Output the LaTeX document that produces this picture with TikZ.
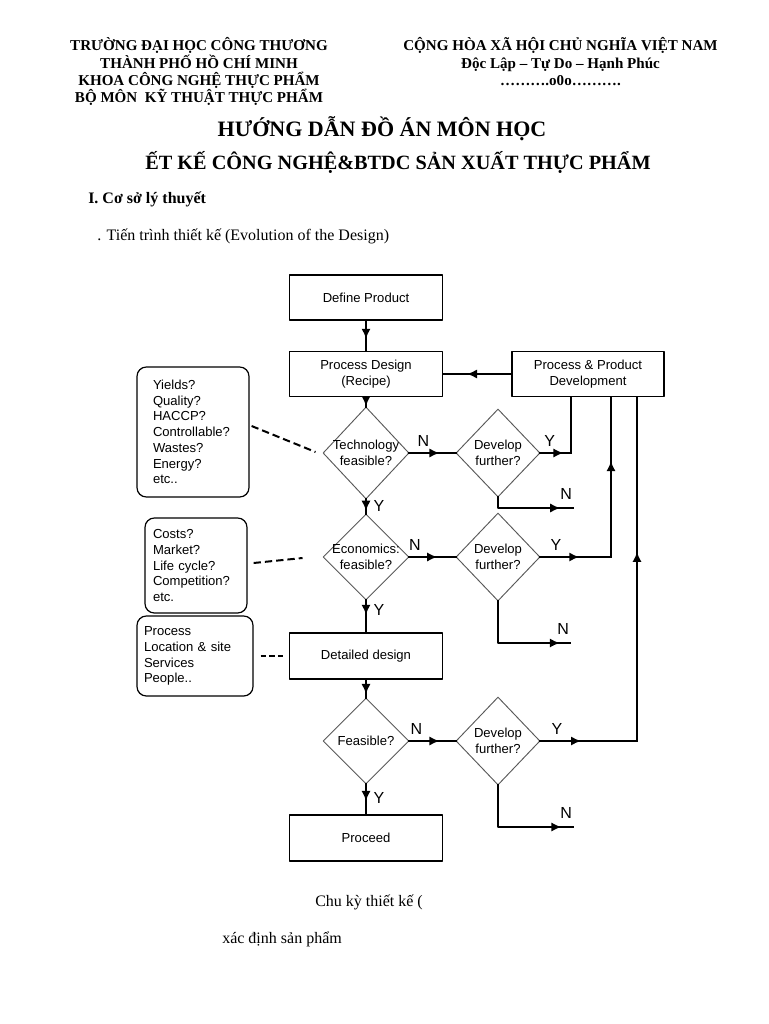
\documentclass[tikz,border=0pt]{standalone}
\usepackage{fontspec}
\setmainfont{Liberation Serif}
\setsansfont{Liberation Sans}
\usetikzlibrary{shapes.geometric,arrows.meta,decorations.markings,calc}
\definecolor{rimgray}{gray}{0.35}
\tikzset{
  head/.style={anchor=base, inner sep=0pt, font=\bfseries\fontsize{11.3}{13}\selectfont},
  body/.style={anchor=base west, inner sep=0pt, font=\fontsize{12}{14}\selectfont},
  stage/.style={draw, line width=1.1pt, minimum width=114.75pt, minimum height=33.75pt,
    inner sep=0pt, align=center, font=\sffamily\fontsize{9.8}{11.8}\selectfont},
  decision/.style={diamond, draw=rimgray, line width=0.7pt, minimum width=64.5pt,
    minimum height=64.5pt, inner sep=-3pt, align=center, font=\sffamily\fontsize{9.8}{11.8}\selectfont},
  devel/.style={decision, minimum width=63pt, minimum height=66pt},
  query/.style={draw, line width=0.9pt, rounded corners=7pt, align=left, inner ysep=3pt,
    font=\sffamily\fontsize{9.8}{11.8}\selectfont},
  flow/.style={line width=1.5pt, line cap=rect},
  midarrow/.style={postaction={decorate}, decoration={markings,
    mark=at position #1 with {\arrow{Latex[length=7.5pt,width=7pt]}}}},
  midarrow/.default=0.5,
  yn/.style={inner sep=0pt, font=\sffamily\fontsize{12}{14}\selectfont},
  dashline/.style={line width=1.5pt, dash pattern=on 5.5pt off 3pt}
}
\begin{document}
\begin{tikzpicture}[x=0.75pt, y=-0.75pt, line join=round]
\useasboundingbox (0,0) rectangle (768,1024);
% page header
\foreach \t [count=\i] in {TRƯỜNG ĐẠI HỌC CÔNG THƯƠNG, THÀNH PHỐ HỒ CHÍ MINH,
    KHOA CÔNG NGHỆ THỰC PHẨM, BỘ MÔN\ \ KỸ THUẬT THỰC PHẨM}
  \node[head] (school\i) at (199,{33.8+17.2*\i}) {\t};
\foreach \t [count=\i] in {CỘNG HÒA XÃ HỘI CHỦ NGHĨA VIỆT NAM,
    Độc Lập – Tự Do – Hạnh Phúc, ……….o0o……….}
  \node[head] (state\i) at (560.5,{33.8+17.2*\i}) {\t};
\node[head, font=\bfseries\fontsize{16.5}{18}\selectfont] (title) at (382,137) {HƯỚNG DẪN ĐỒ ÁN MÔN HỌC};
\node[head, font=\bfseries\fontsize{15.2}{17}\selectfont] (subtitle) at (398,169) {ẾT KẾ CÔNG NGHỆ\&BTDC SẢN XUẤT THỰC PHẨM};
\node[body, font=\bfseries\fontsize{12}{14}\selectfont] (basis) at (88,203) {I. Cơ sở lý thuyết};
\node[body] (evol) at (97,240) {. Tiến trình thiết kế (Evolution of the Design)};
\node[body] (cycle) at (315,906) {Chu kỳ thiết kế (};
\node[body] (product) at (222,943) {xác định sản phẩm};

% flow chart
\node[stage] (define) at (366,297.5) {Define Product};
\node[stage] (design) at (366,374) {Process Design\\(Recipe)};
\node[stage, minimum width=114pt] (ppd) at (588,374) {Process \& Product\\Development};
\node[decision, minimum height=69pt] (tech) at (366,453) {Technology\\feasible?};
\node[devel] (dev1) at (498,453) {Develop\\further?};
\node[decision] (econ) at (366,557) {Economics:\\feasible?};
\node[devel] (dev2) at (498,557) {Develop\\further?};
\node[stage, minimum height=34.5pt] (detail) at (366,656) {Detailed design};
\node[decision] (feas) at (366,741) {Feasible?};
\node[devel] (dev3) at (498,741) {Develop\\further?};
\node[stage, minimum height=34.5pt] (proceed) at (366,838) {Proceed};

\node[query, text width=60pt, inner xsep=12pt, minimum height=97.5pt] (yields) at (193,432)
  {Yields?\\Quality?\\HACCP?\\Controllable?\\Wastes?\\Energy?\\etc..};
\node[query, text width=64.5pt, inner xsep=6pt, minimum height=71.25pt] (costs) at (196,565.5)
  {Costs?\\Market?\\Life cycle?\\Competition?\\etc.};
\node[query, text width=76.5pt, inner xsep=5.25pt, minimum height=60pt] (site) at (195,656)
  {Process\\Location \& site\\Services\\People..};

\coordinate (back1) at (571,453);
\coordinate (back2) at (611,557);
\coordinate (back3) at (637,741);
\coordinate (out1) at (573,508);
\coordinate (out2) at (570,643);
\coordinate (out3) at (573,827);

\draw[flow, midarrow=0.6] (define) -- (design);
\draw[flow, midarrow=0.95] (design) -- (tech);
\draw[flow, midarrow=0.65] (ppd) -- (design);
\draw[flow, midarrow=0.65] (tech) -- node[yn, above=4.5pt, pos=0.3]{N} (dev1);
\draw[flow, midarrow=0.8] (tech) -- node[yn, right=5pt, pos=0.43]{Y} (econ);
\draw[flow, midarrow=0.6] (econ) -- node[yn, above=4.5pt, pos=0.12]{N} (dev2);
\draw[flow, midarrow=0.45] (econ) -- node[yn, right=5pt, pos=0.3]{Y} (detail);
\draw[flow, midarrow=0.8] (detail) -- (feas);
\draw[flow, midarrow=0.65] (feas) -- node[yn, above=4.5pt, pos=0.15]{N} (dev3);
\draw[flow, midarrow=0.55] (feas) -- node[yn, right=5pt, pos=0.45]{Y} (proceed);

\draw[flow, midarrow=0.75] (dev1) -- node[yn, above=4.5pt, pos=0.3]{Y} (back1);
\draw[flow] (back1) -- (back1 |- ppd.south);
\draw[flow, midarrow=0.55] (dev2) -- node[yn, above=4.5pt, pos=0.22]{Y} (back2);
\draw[flow, midarrow=0.6] (back2) -- (back2 |- ppd.south);
\draw[flow, midarrow=0.42] (dev3) -- node[yn, above=4.5pt, pos=0.17]{Y} (back3);
\draw[flow, midarrow=0.55] (back3) -- (back3 |- ppd.south);

\draw[flow, midarrow=0.85] (dev1) |- node[yn, pos=1, anchor=south east, yshift=6pt]{N} (out1);
\draw[flow, midarrow=0.91] (dev2) |- node[yn, pos=1, anchor=south east, yshift=6pt]{N} (out2);
\draw[flow, midarrow=0.9] (dev3) |- node[yn, pos=1, anchor=south east, yshift=6pt]{N} (out3);

\draw[dashline] ($(yields.east)+(2,-6)$) -- ($(tech.west)+(-7,-1)$);
\draw[dashline] ($(costs.east)+(6,-2.5)$) -- ($(econ.west)+(-20,1)$);
\draw[dashline, dash pattern=on 4pt off 2.5pt] ($(site.east)+(7,0)$) -- ($(detail.west)+(-5.5,0)$);
\end{tikzpicture}
\end{document}
